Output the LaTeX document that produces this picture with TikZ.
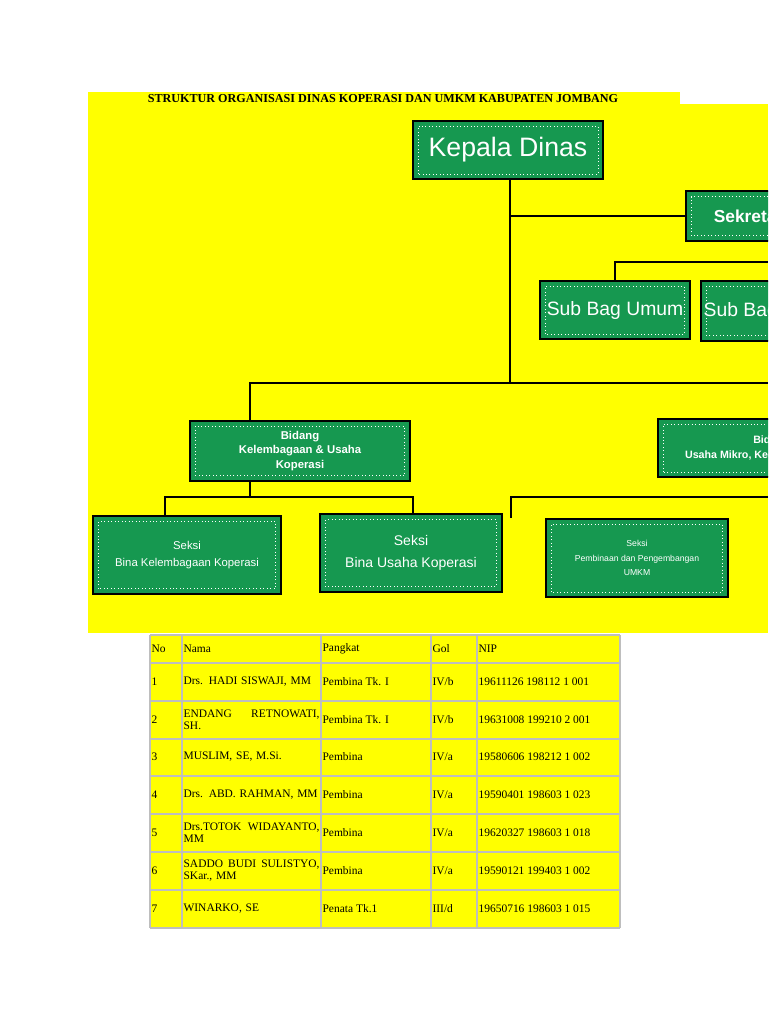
\documentclass[tikz,border=0pt]{standalone}
\usepackage{fontspec}
\setmainfont{Liberation Serif}
\setsansfont{Liberation Sans}
\usetikzlibrary{calc}
\definecolor{kuning}{RGB}{255,255,0}
\definecolor{hijau}{RGB}{22,152,80}
\definecolor{garis}{RGB}{190,190,190}
\tikzset{
  unit/.style = {
    draw=black,
    line width=1.5pt,
    fill=hijau,
    text=white,
    align=center,
    inner sep=2pt,
    font=\sffamily\bfseries,
    path picture={
      \draw[white, dotted, line width=.6pt]
        ($(path picture bounding box.south west)+(4pt,4pt)$) rectangle
        ($(path picture bounding box.north east)-(4pt,4pt)$);
    },
  },
  link/.style = {
    line width=1.5pt,
  },
  cell/.style = {
    anchor=west,
    inner sep=1pt,
    font=\fontsize{8.6}{9}\selectfont,
  },
}

\begin{document}
\begin{tikzpicture}[x=0.75pt, y=-0.75pt]
\useasboundingbox (0,0) rectangle (768,1024);
\clip (0,0) rectangle (768,1024);
\fill[white] (0,0) rectangle (768,1024);

% background
\fill[kuning] (88,92) rectangle (680,105);
\fill[kuning] (88,104) rectangle (768,633);
\node(Title)[font=\bfseries\fontsize{9.1}{10}\selectfont] at (383,99) {STRUKTUR ORGANISASI DINAS KOPERASI DAN UMKM KABUPATEN JOMBANG};

% units
\node(Kepala)[unit, minimum width=143pt, minimum height=44pt, font=\sffamily\fontsize{20}{22}\selectfont] at (508,150) {Kepala Dinas};
\node(Sekretariat)[unit, minimum width=109pt, minimum height=37pt, font=\sffamily\bfseries\fontsize{13}{14}\selectfont, anchor=west] at (685,216) {Sekretariat};
\node(Umum)[unit, minimum width=112pt, minimum height=44pt, font=\sffamily\fontsize{14.5}{16}\selectfont] at (615,310) {Sub Bag Umum};
\node(Keuangan)[unit, minimum width=112pt, minimum height=45pt, font=\sffamily\fontsize{14.5}{16}\selectfont, anchor=west] at (700,311) {Sub Bag Keuangan};
\node(BidKel)[unit, minimum width=165pt, minimum height=45pt, font=\sffamily\bfseries\fontsize{8.5}{11}\selectfont] at (300,451) {Bidang\\Kelembagaan \& Usaha\\Koperasi};
\node(BidUMKM)[unit, minimum width=170pt, minimum height=44pt, font=\sffamily\bfseries\fontsize{8}{11}\selectfont, anchor=west] at (657,448) {Bidang\\Usaha Mikro, Kecil dan Menengah};
\node(SeksiKel)[unit, minimum width=141pt, minimum height=58pt, font=\sffamily\fontsize{8.5}{13}\selectfont] at (187,555) {Seksi\\Bina Kelembagaan Koperasi};
\node(SeksiUsaha)[unit, minimum width=136pt, minimum height=58pt, font=\sffamily\fontsize{10.5}{16}\selectfont] at (411,553) {Seksi\\Bina Usaha Koperasi};
\node(SeksiUMKM)[unit, minimum width=136pt, minimum height=59pt, font=\sffamily\fontsize{6.5}{11}\selectfont] at (637,558) {Seksi\\Pembinaan dan Pengembangan\\UMKM};

% connectors
\coordinate(Spine) at (510,383);
\coordinate(RightBus) at (768,383);
\coordinate(SubBus) at (768,262);
\coordinate(UmkmBus) at (768,497);
\draw[link] (Kepala.south -| Spine) -- (Spine);
\draw[link] (Sekretariat.west -| Spine) -- (Sekretariat.west);
\draw[link] (Umum.north) -- (Umum.north |- SubBus) -- (SubBus);
\draw[link] (BidKel.north -| 250,0) -- (250,383) -- (RightBus);
\draw[link] (BidKel.south -| 250,0) -- (250,497);
\draw[link] (SeksiKel.north -| 165,0) -- (165,497) -| (SeksiUsaha.north -| 413,0);
\draw[link] (SeksiUMKM.north -| 511,0) -- (511,497) -- (UmkmBus);

% table
\fill[kuning] (150,635) rectangle (620,928);
\foreach \y in {635,663,701,739,776,814,852,890,928}
  \draw[garis, line width=1pt] (150,\y) -- (620,\y);
\foreach \x in {150,182,321,431,477,620}
  \draw[garis, line width=1pt] (\x,635) -- (\x,928);
\foreach \yy/\no/\nama/\pangkat/\gol/\nip in {
  649/No/Nama/Pangkat/Gol/NIP,
  682/1/{Drs. HADI SISWAJI, MM}/{Pembina Tk. I}/IV\slash b/{19611126 198112 1 001},
  720/2/{ENDANG\hfill RETNOWATI,\\SH.}/{Pembina Tk. I}/IV\slash b/{19631008 199210 2 001},
  757/3/{MUSLIM, SE, M.Si.}/Pembina/IV\slash a/{19580606 198212 1 002},
  795/4/{Drs. ABD. RAHMAN, MM}/Pembina/IV\slash a/{19590401 198603 1 023},
  833/5/{Drs.TOTOK\hfill WIDAYANTO,\\MM}/Pembina/IV\slash a/{19620327 198603 1 018},
  871/6/{SADDO\hfill BUDI\hfill SULISTYO,\\SKar., MM}/Pembina/IV\slash a/{19590121 199403 1 002},
  909/7/{WINARKO, SE}/{Penata Tk.1}/III\slash d/{19650716 198603 1 015}} {
  \node[cell] at (150,\yy) {\no};
  \node[cell, text width=102pt, align=left] at (182,\yy) {\nama};
  \node[cell] at (321,\yy) {\pangkat};
  \node[cell] at (431,\yy) {\gol};
  \node[cell] at (477,\yy) {\nip};
}
\end{tikzpicture}
\end{document}
